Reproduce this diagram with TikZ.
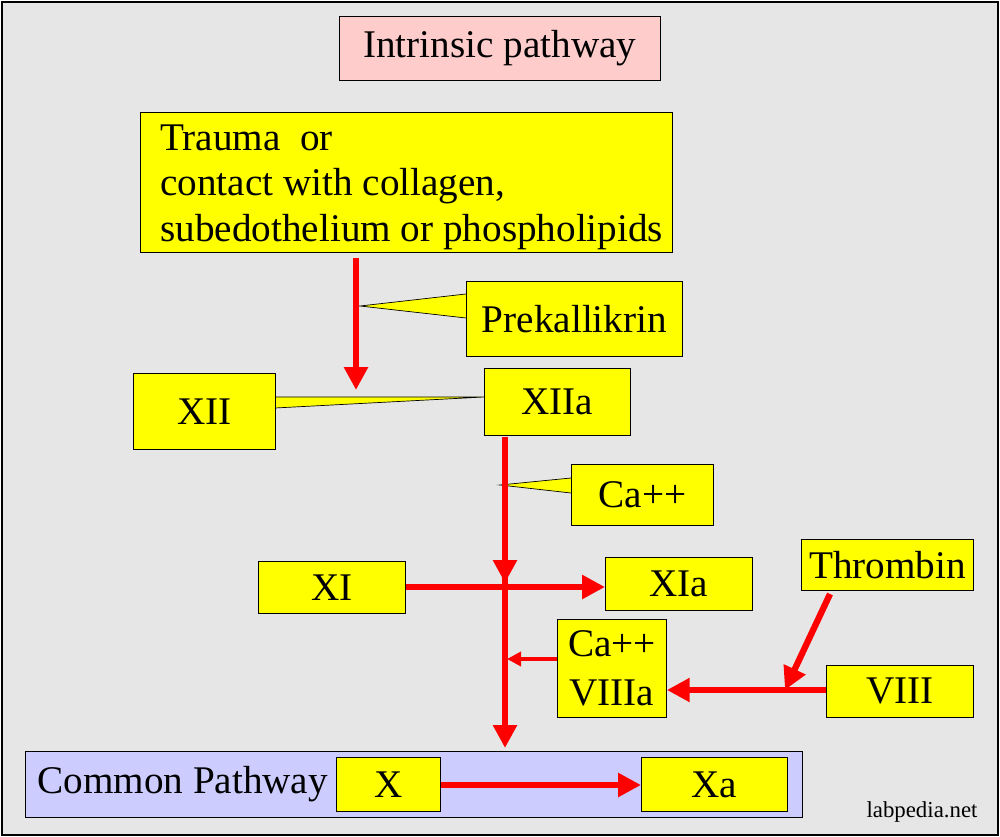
\documentclass[tikz,border=0pt]{standalone}
\usepackage{fontspec}
\setmainfont{Liberation Serif}
\usetikzlibrary{arrows.meta}
\definecolor{bg}{HTML}{E6E6E6}
\definecolor{yel}{HTML}{FFFF00}
\definecolor{pinkb}{HTML}{FFCCCC}
\definecolor{lav}{HTML}{CCCCFF}
\definecolor{arr}{HTML}{FF0000}
\begin{document}
\begin{tikzpicture}[x=0.02cm,y=-0.02cm,
  box/.style={draw=black,line width=0.5pt,fill=yel,font=\fontsize{22.3}{26}\selectfont},
  bx/.style={box,anchor=north west,inner sep=0pt},
  ar/.style={draw=arr,line width=3.6pt,-{Triangle[length=13pt,width=13pt]}},
  call/.style={fill=yel,draw=black,line width=0.4pt}]
\useasboundingbox (0,0) rectangle (1000,837);
\draw[fill=bg,line width=0.6pt] (2,2) rectangle (998,835);
\node[draw,fill=pinkb,anchor=north west,minimum width=321*0.02cm,minimum height=64*0.02cm,font=\fontsize{22.3}{26}\selectfont] (ip) at (339,16) {Intrinsic pathway};
\node[draw,fill=lav,anchor=north west,minimum width=777*0.02cm,minimum height=66*0.02cm] (cp) at (25,751) {};
\node[anchor=west,inner sep=0pt,font=\fontsize{22.3}{26}\selectfont] (cpt) at (37,784) {Common Pathway};
% callouts
\draw[call] (466,294) -- (360,306) -- (466,318);
\draw[call] (275,397) -- (484,397) -- (275,408);
\draw[call] (571,478) -- (500,485) -- (571,493);
\node[bx,minimum width=532*0.02cm,minimum height=140*0.02cm] (tr) at (140,112) {};
\node[anchor=north west,align=left,inner sep=0pt,font=\fontsize{22.3}{26}\selectfont] (trt) at (160,124) {Trauma\ \ or\\contact with collagen,\\subedothelium or phospholipids};
\node[bx,minimum width=216*0.02cm,minimum height=75*0.02cm] (pk) at (466,281) {Prekallikrin};
\node[bx,minimum width=142*0.02cm,minimum height=76*0.02cm] (xii) at (133,373) {XII};
\node[bx,minimum width=146*0.02cm,minimum height=67*0.02cm] (xiia) at (484,368) {XIIa};
\node[bx,minimum width=142*0.02cm,minimum height=61*0.02cm] (ca) at (571,464) {Ca++};
\node[bx,minimum width=147*0.02cm,minimum height=52*0.02cm] (xi) at (258,561) {XI};
\node[bx,minimum width=147*0.02cm,minimum height=53*0.02cm] (xia) at (605,557) {XIa};
\node[bx,minimum width=172*0.02cm,minimum height=51*0.02cm] (th) at (801,539) {Thrombin};
\node[bx,minimum width=109*0.02cm,minimum height=98*0.02cm,align=center] (c8) at (557,619) {Ca++\\[2pt]VIIIa};
\node[bx,minimum width=147*0.02cm,minimum height=52*0.02cm] (viii) at (826,665) {VIII};
\node[bx,minimum width=104*0.02cm,minimum height=54*0.02cm] (x) at (336,757) {X};
\node[bx,minimum width=146*0.02cm,minimum height=54*0.02cm] (xa) at (641,757) {Xa};
\node[font=\fontsize{13}{15}\selectfont] (lp) at (922,812) {labpedia.net};
\coordinate (j1) at (505,587);
\coordinate (j2) at (785,690);
\draw[ar] (356,258) -- (356,390);
\draw[draw=arr,line width=3.6pt] (505,437) -- (j1);
\draw[ar] (505,470) -- (505,583);
\draw[ar] (xi.east |- 0,587) -- (xia.west |- 0,587);
\draw[ar] (j1) -- (505,748);
\draw[draw=arr,line width=2pt,-{Triangle[length=8pt,width=8pt]}] (c8.west |- 0,659) -- (507,659);
\draw[ar] (viii.west |- 0,690) -- (c8.east |- 0,690);
\draw[ar] (830,594) -- (j2);
\draw[ar] (x.east |- 0,785) -- (xa.west |- 0,785);
\end{tikzpicture}
\end{document}
